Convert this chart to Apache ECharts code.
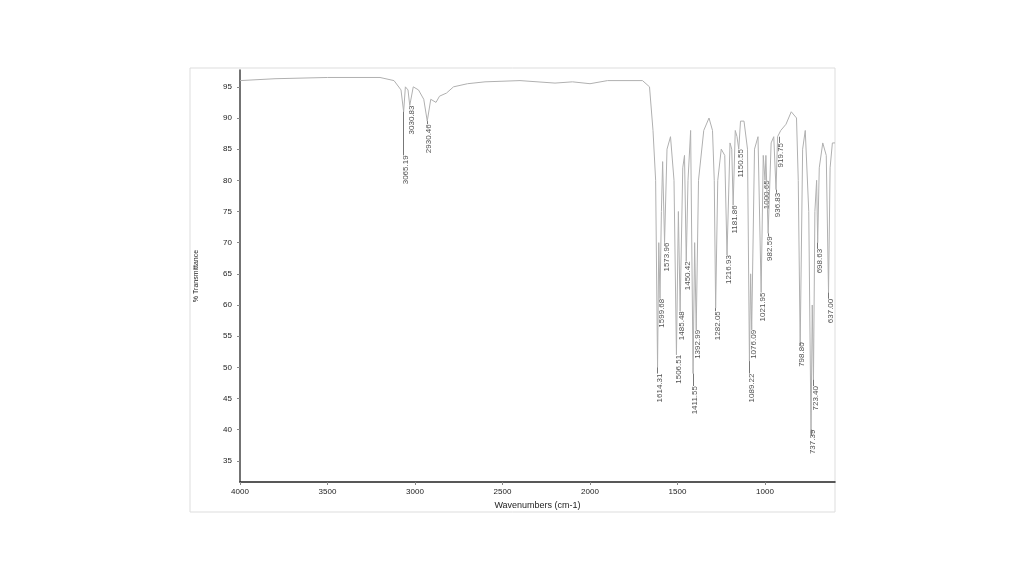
<!DOCTYPE html>
<html><head><meta charset="utf-8">
<script src="https://cdn.jsdelivr.net/npm/echarts@6/dist/echarts.min.js"></script>
<style>html,body{margin:0;background:#fff}#c{width:1024px;height:576px}</style>
</head><body><div id="c"></div>
<script>
// spectrum points
var wavenumbers = [4000,3800,3500,3200,3120,3080,3065,3055,3040,3030,3010,2980,2950,2930,2910,2880,2860,2820,2780,2700,2600,2400,2200,2100,2000,1900,1800,1700,1660,1640,1625,1614,1607,1600,1592,1585,1574,1560,1540,1520,1506,1495,1485,1470,1460,1450,1440,1425,1411,1402,1393,1380,1350,1320,1300,1290,1282,1270,1250,1230,1217,1200,1190,1182,1170,1160,1150,1140,1120,1100,1089,1082,1076,1060,1040,1022,1010,1000,995,982,965,950,937,928,920,910,880,850,820,810,799,785,770,750,737,730,723,715,705,699,690,670,650,637,628,615,600];
var transmittance = [96,96.3,96.5,96.5,96,94.5,91,95,94.5,92,95,94.5,93,89.5,93,92.5,93.5,94,95,95.5,95.8,96,95.6,95.8,95.5,96,96,96,95,88,80,50,70,61,75,83,70,85,87,80,52,75,59,82,84,67,80,88,49,70,56,80,88,90,88,80,59.5,80,85,84,68,86,85,76,88,87,85,89.5,89.5,85,51,65,56,85,87,62,84,80,84,71.5,86,87,78.5,87,87,88,89,91,90,80,53.5,85,88,75,39,60,48,75,80,70,82,86,84,62,82,86,86];
// labelled peaks: position, tip value, label top value
var peakPos = [3065.19,3030.83,2930.46,1614.31,1599.68,1573.96,1506.51,1485.48,1450.42,1411.55,1392.99,1282.05,1216.93,1181.86,1150.55,1089.22,1076.09,1021.95,1000.65,982.59,936.83,919.75,798.80,737.39,723.40,698.63,637.00];
var peakTip = [91,92,89.5,50,61,70,52,59,67,49,56,59.5,68,76,85,51,56,62,80,71.5,78.5,87,53.5,39,48,70,62];
var peakLab = [84,92,89,49,61,70,52,59,67,47,56,59,68,76,85,49,56,62,80,71,78,86,54,40,47,69,61];
var xTicks = [1000,1500,2000,2500,3000,3500,4000];
var yTicks = [35,40,45,50,55,60,65,70,75,80,85,90,95];

var chart = echarts.init(document.getElementById('c'));
var spec = wavenumbers.map(function (w, i) { return [w, transmittance[i]]; });
var drops = peakPos.map(function (p, i) {
    return [{ coord: [p, peakTip[i]] }, { coord: [p, peakLab[i]] }];
});
var labs = peakPos.map(function (p, i) { return [p, peakLab[i]]; });

chart.setOption({
    animation: false,
    graphic: [{ type: 'rect', shape: { x: 190, y: 68, width: 645, height: 444 },
        style: { fill: 'none', stroke: '#ddd', lineWidth: 1 } }],
    grid: { left: 240, right: 189, top: 70, bottom: 94 },
    xAxis: {
        type: 'value', inverse: true, min: 600, max: 4000,
        name: 'Wavenumbers (cm-1)', nameLocation: 'middle', nameGap: 14,
        nameTextStyle: { fontSize: 9, color: '#222', fontFamily: 'Liberation Sans' },
        axisLine: { lineStyle: { color: '#222', width: 1.5 } },
        axisTick: { customValues: xTicks, length: 3, lineStyle: { color: '#888' } },
        axisLabel: { customValues: xTicks, fontSize: 8, color: '#222', margin: 6,
            formatter: function (v) { return String(v); } },
        splitLine: { show: false }
    },
    yAxis: {
        type: 'value', min: 31.6, max: 97.7,
        name: '% Transmittance', nameLocation: 'middle', nameGap: 40,
        nameTextStyle: { fontSize: 7, color: '#222' },
        axisLine: { lineStyle: { color: '#444', width: 1.5 } },
        axisTick: { customValues: yTicks, length: 3, lineStyle: { color: '#888' } },
        axisLabel: { customValues: yTicks, fontSize: 8, color: '#222' },
        splitLine: { show: false }
    },
    series: [
        {
            type: 'line', data: spec, symbol: 'none', smooth: false,
            lineStyle: { color: '#b0b0b0', width: 1 },
            markLine: { silent: true, symbol: 'none', label: { show: false },
                lineStyle: { color: '#777', width: 1, type: 'solid' }, data: drops }
        },
        {
            type: 'scatter', data: labs, symbolSize: 0, silent: true,
            label: {
                show: true, position: 'inside', rotate: 90, align: 'right', verticalAlign: 'middle',
                offset: [0, 2], fontSize: 8, color: '#222',
                formatter: function (p) { return p.value[0].toFixed(2); }
            }
        }
    ]
});
</script></body></html>
